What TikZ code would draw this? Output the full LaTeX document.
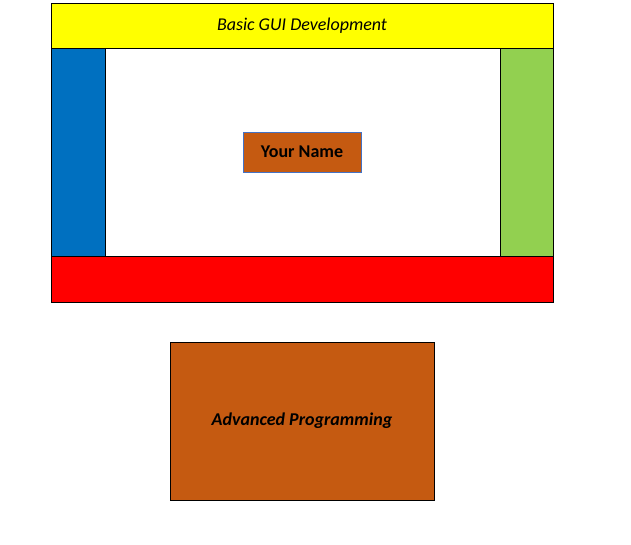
\documentclass[tikz,border=0pt]{standalone}
\usepackage{fontspec}
\setmainfont{Carlito}
\definecolor{ybar}{RGB}{255,255,0}
\definecolor{bbar}{RGB}{0,112,192}
\definecolor{gbar}{RGB}{146,208,80}
\definecolor{rbar}{RGB}{255,0,0}
\definecolor{brn}{RGB}{197,90,17}
\definecolor{bline}{RGB}{68,114,196}
\tikzset{bar/.style={draw=black,line width=0.6pt}}
\begin{document}
\begin{tikzpicture}[x=1pt,y=-1pt]
\useasboundingbox (0,0) rectangle (631,545);
\fill[white] (0,0) rectangle (631,545);
\draw[bar,fill=bbar] (51,48) rectangle (105,256);
\draw[bar,fill=gbar] (500,48) rectangle (553,256);
\draw[bar,fill=ybar] (51,3) rectangle (553,48);
\draw[bar,fill=rbar] (51,256) rectangle (553,302);
\node (title) at (302,25.5) {\fontsize{18}{20}\selectfont\itshape Basic GUI Development};
\node[draw=bline,fill=brn,line width=0.8pt,minimum width=118pt,minimum height=40pt,inner sep=0pt] (name) at (302,152) {\fontsize{18}{20}\selectfont\bfseries Your Name};
\node[draw=black,fill=brn,line width=0.6pt,minimum width=264pt,minimum height=158pt,inner sep=0pt] (adv) at (302,421) {\fontsize{18}{20}\selectfont\bfseries\itshape Advanced Programming};
\end{tikzpicture}
\end{document}
